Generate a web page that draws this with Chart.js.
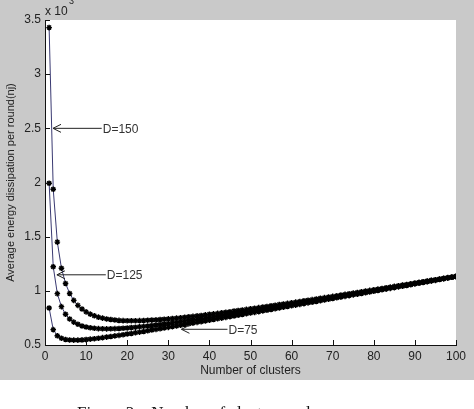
<!DOCTYPE html>
<html>
<head>
<meta charset="utf-8">
<script src="https://cdn.jsdelivr.net/npm/chart.js@4.4.1/dist/chart.umd.min.js"></script>
<style>
  html, body { margin: 0; padding: 0; background: #fff; }
  #wrap { width: 474px; height: 409px; overflow: hidden; }
</style>
</head>
<body>
<div id="wrap"><canvas id="energyChart" width="474" height="409"></canvas></div>
<script>
// Number of clusters (x) and average energy per round (x 10^3)
const clusters = [
  1,2,3,4,5,6,7,8,9,10,11,12,13,14,15,16,17,18,19,20,
  21,22,23,24,25,26,27,28,29,30,31,32,33,34,35,36,37,38,39,40,
  41,42,43,44,45,46,47,48,49,50,51,52,53,54,55,56,57,58,59,60,
  61,62,63,64,65,66,67,68,69,70,71,72,73,74,75,76,77,78,79,80,
  81,82,83,84,85,86,87,88,89,90,91,92,93,94,95,96,97,98,99,100
];
const energyD150 = [
  3.430,1.938,1.450,1.209,1.068,0.976,0.912,0.866,0.832,0.806,
  0.785,0.770,0.757,0.748,0.740,0.735,0.731,0.727,0.725,0.724,
  0.724,0.724,0.725,0.726,0.728,0.730,0.732,0.735,0.738,0.741,
  0.745,0.748,0.752,0.756,0.760,0.764,0.769,0.773,0.778,0.783,
  0.787,0.792,0.797,0.802,0.807,0.813,0.818,0.823,0.829,0.834,
  0.839,0.845,0.850,0.856,0.862,0.867,0.873,0.879,0.884,0.890,
  0.896,0.902,0.908,0.913,0.919,0.925,0.931,0.937,0.943,0.949,
  0.955,0.961,0.967,0.973,0.979,0.985,0.991,0.998,1.004,1.010,
  1.016,1.022,1.028,1.034,1.041,1.047,1.053,1.059,1.065,1.072,
  1.078,1.084,1.090,1.097,1.103,1.109,1.116,1.122,1.128,1.134
];
const energyD125 = [
  1.993,1.223,0.974,0.854,0.784,0.740,0.711,0.691,0.676,0.666,
  0.659,0.654,0.651,0.650,0.649,0.650,0.651,0.652,0.655,0.657,
  0.661,0.664,0.668,0.672,0.676,0.680,0.685,0.689,0.694,0.699,
  0.704,0.710,0.715,0.720,0.726,0.731,0.737,0.742,0.748,0.754,
  0.760,0.765,0.771,0.777,0.783,0.789,0.795,0.801,0.807,0.813,
  0.819,0.825,0.832,0.838,0.844,0.850,0.856,0.863,0.869,0.875,
  0.881,0.888,0.894,0.900,0.907,0.913,0.919,0.926,0.932,0.939,
  0.945,0.951,0.958,0.964,0.971,0.977,0.984,0.990,0.996,1.003,
  1.009,1.016,1.022,1.029,1.035,1.042,1.048,1.055,1.061,1.068,
  1.074,1.081,1.087,1.094,1.100,1.107,1.113,1.120,1.126,1.133
];
const energyD75 = [
  0.842,0.642,0.586,0.563,0.551,0.546,0.545,0.545,0.547,0.550,
  0.554,0.558,0.563,0.568,0.573,0.578,0.584,0.589,0.595,0.601,
  0.607,0.613,0.619,0.625,0.632,0.638,0.644,0.650,0.657,0.663,
  0.670,0.676,0.683,0.689,0.696,0.702,0.709,0.715,0.722,0.728,
  0.735,0.742,0.748,0.755,0.762,0.768,0.775,0.781,0.788,0.795,
  0.801,0.808,0.815,0.821,0.828,0.835,0.841,0.848,0.855,0.862,
  0.868,0.875,0.882,0.889,0.895,0.902,0.909,0.915,0.922,0.929,
  0.936,0.942,0.949,0.956,0.963,0.969,0.976,0.983,0.990,0.996,
  1.003,1.010,1.016,1.023,1.030,1.037,1.043,1.050,1.057,1.064,
  1.070,1.077,1.084,1.091,1.097,1.104,1.111,1.118,1.125,1.131
];
const xTicks = [0,10,20,30,40,50,60,70,80,90,100];
const yTicks = [0.5,1,1.5,2,2.5,3,3.5];

// arrow labels: tip and text start in data units
const arrowLabels = [
  { text: 'D=150', tip: [1.95, 2.5],   from: [13.8, 2.5] },
  { text: 'D=125', tip: [2.9, 1.148],  from: [14.8, 1.148] },
  { text: 'D=75',  tip: [33.2, 0.645], from: [44.4, 0.645] }
];

const FONT = '"Liberation Sans", Arial, sans-serif';
const pts = vals => clusters.map((c, i) => ({ x: c, y: vals[i] }));

const series = (label, vals) => ({
  label, data: pts(vals),
  borderColor: '#3a3a72', borderWidth: 1,
  pointStyle: 'star', pointRadius: 2.8, pointBorderColor: '#000',
  pointBorderWidth: 1.4, pointBackgroundColor: '#000',
  tension: 0, fill: false
});

// gray figure background, inward ticks, arrows, exponent, caption
const matlabLook = {
  id: 'matlabLook',
  beforeDraw(chart) {
    const { ctx, chartArea: a } = chart;
    const figBottom = chart.scales.x.bottom;
    ctx.save();
    ctx.fillStyle = '#c9c9c9';
    ctx.fillRect(0, 0, chart.width, figBottom);
    ctx.fillStyle = '#fff';
    ctx.fillRect(a.left, a.top, a.right - a.left, a.bottom - a.top);
    ctx.restore();
  },
  afterDraw(chart) {
    const { ctx, chartArea: a, scales: { x, y } } = chart;
    ctx.save();
    ctx.strokeStyle = '#111';
    ctx.lineWidth = 1;
    ctx.beginPath();
    yTicks.forEach(v => {
      const py = Math.round(y.getPixelForValue(v)) + 0.5;
      ctx.moveTo(a.left, py); ctx.lineTo(a.left + 5, py);
    });
    xTicks.forEach(v => {
      const px = Math.round(x.getPixelForValue(v)) + 0.5;
      ctx.moveTo(px, a.bottom); ctx.lineTo(px, a.bottom - 5);
    });
    ctx.stroke();

    // arrows + labels
    ctx.strokeStyle = '#222';
    ctx.fillStyle = '#333';
    ctx.font = '12px ' + FONT;
    ctx.textBaseline = 'middle';
    ctx.textAlign = 'left';
    arrowLabels.forEach(l => {
      const tx = x.getPixelForValue(l.tip[0]), ty = y.getPixelForValue(l.tip[1]);
      const fx = x.getPixelForValue(l.from[0]), fy = y.getPixelForValue(l.from[1]);
      ctx.beginPath();
      ctx.moveTo(fx, fy); ctx.lineTo(tx, ty);
      ctx.moveTo(tx + 8, ty - 4); ctx.lineTo(tx, ty); ctx.lineTo(tx + 8, ty + 4);
      ctx.stroke();
      ctx.fillText(l.text, fx + 1, fy + 1);
    });

    // axis exponent
    ctx.textBaseline = 'alphabetic';
    ctx.fillStyle = '#222';
    ctx.font = '12px ' + FONT;
    ctx.fillText('x 10', a.left, a.top - 5);
    ctx.font = '9px ' + FONT;
    ctx.fillText('3', a.left + 24, a.top - 16);

    // figure caption (cut by the bottom edge)
    ctx.fillStyle = '#111';
    ctx.font = '17px "Liberation Serif", "Times New Roman", serif';
    ctx.fillText('Figure 3.   Number of clusters and energy', 77, 418);
    ctx.restore();
  }
};

new Chart(document.getElementById('energyChart'), {
  type: 'line',
  data: {
    datasets: [
      series('D=150', energyD150),
      series('D=125', energyD125),
      series('D=75', energyD75)
    ]
  },
  options: {
    responsive: false,
    animation: false,
    layout: { padding: { top: 20, right: 18, left: 0, bottom: 29 } },
    plugins: { legend: { display: false }, tooltip: { enabled: false } },
    scales: {
      x: {
        type: 'linear', min: 0, max: 100,
        afterBuildTicks: s => { s.ticks = xTicks.map(v => ({ value: v })); },
        afterFit: s => { s.height = 35; },
        grid: { display: false, drawTicks: false },
        border: { display: true, color: '#111', width: 1 },
        ticks: { color: '#222', padding: 4, maxRotation: 0, font: { family: FONT, size: 12 },
                 callback: v => String(v) },
        title: { display: true, text: 'Number of clusters', color: '#222',
                 padding: { top: 2, bottom: 2 }, font: { family: FONT, size: 12 } }
      },
      y: {
        type: 'linear', min: 0.5, max: 3.5,
        afterBuildTicks: s => { s.ticks = yTicks.map(v => ({ value: v })); },
        afterFit: s => { s.width = 45; },
        grid: { display: false, drawTicks: false },
        border: { display: true, color: '#111', width: 1 },
        ticks: { color: '#222', padding: 4, font: { family: FONT, size: 12 },
                 callback: v => String(v) },
        title: { display: true, text: 'Average energy dissipation per round(nj)', color: '#222',
                 padding: { top: 4, bottom: 4 }, font: { family: FONT, size: 11 } }
      }
    }
  },
  plugins: [matlabLook]
});
</script>
</body>
</html>
